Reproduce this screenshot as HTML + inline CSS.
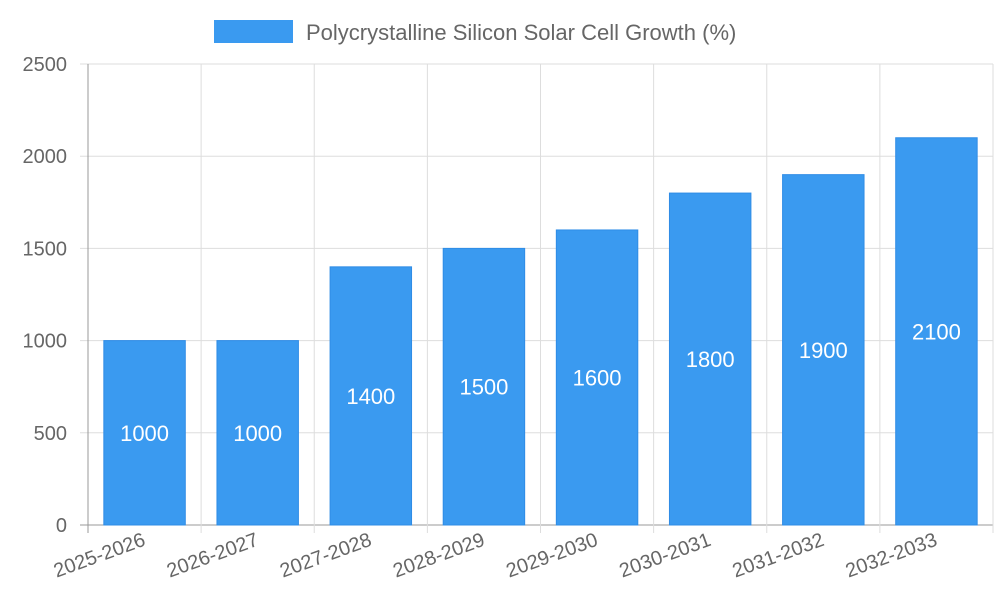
<!DOCTYPE html>
<html><head><meta charset="utf-8"><style>
body{margin:0;background:#fff;width:1000px;height:600px;overflow:hidden}
text{font-family:"Liberation Sans",sans-serif}
</style></head><body>
<svg id="chart" width="1000" height="600" xmlns="http://www.w3.org/2000/svg">
<g>
<rect x="214" y="20" width="79" height="23" fill="#3a9af0"/>
<text x="306" y="40" font-size="22" fill="#666">Polycrystalline Silicon Solar Cell Growth (%)</text>
</g>
<g id="grid"></g><g id="bars"></g><g id="axes"></g>
</svg>
<script>
const categories=["2025-2026","2026-2027","2027-2028","2028-2029","2029-2030","2030-2031","2031-2032","2032-2033"];
const values=[1000,1000,1400,1500,1600,1800,1900,2100];
const yTicks=[0,500,1000,1500,2000,2500];
const NS="http://www.w3.org/2000/svg";
const L=88,R=993,T=64,B=525,yMax=2500;
const y=v=>B-(v/yMax)*(B-T);
const band=(R-L)/categories.length;
const x=i=>L+band*i;
function mk(tag,attrs,parent,txt){const e=document.createElementNS(NS,tag);for(const k in attrs)e.setAttribute(k,attrs[k]);if(txt!==undefined)e.textContent=txt;parent.appendChild(e);return e;}
const grid=document.getElementById('grid'),bars=document.getElementById('bars'),axes=document.getElementById('axes');
yTicks.forEach(t=>{
 const g=mk('line',{x1:80,x2:R,y1:y(t),y2:y(t),stroke:t===0?'#999':'#ddd','stroke-width':1},grid);
 
 
 const l=mk('text',{x:67,y:y(t)+7,'text-anchor':'end','font-size':20,fill:'#666'},axes,String(t));
 
 
});
for(let i=0;i<=categories.length;i++){
 const g=mk('line',{x1:x(i),x2:x(i),y1:T,y2:B+8,stroke:i===0?'#999':'#ddd','stroke-width':1},grid);
 
 
}
categories.forEach((c,i)=>{
 const bw=band*0.72,bx=x(i)+(band-bw)/2,top=y(values[i]);
 const r=mk('rect',{x:bx,y:top,width:bw,height:B-top,fill:'#3a9af0',stroke:'#2f8ce6','stroke-width':1},bars);
 
 
 const v=mk('text',{x:bx+bw/2,y:(top+B)/2+8,'text-anchor':'middle','font-size':22,fill:'#fff'},bars,String(values[i]));
 
 
 const cx=x(i)+band/2+2,cy=B+20;
 const t=mk('text',{x:cx,y:cy,'text-anchor':'end','font-size':20,fill:'#666',transform:`rotate(-20 ${cx} ${cy})`},axes,c);
 
 
});
</script>
</body></html>
